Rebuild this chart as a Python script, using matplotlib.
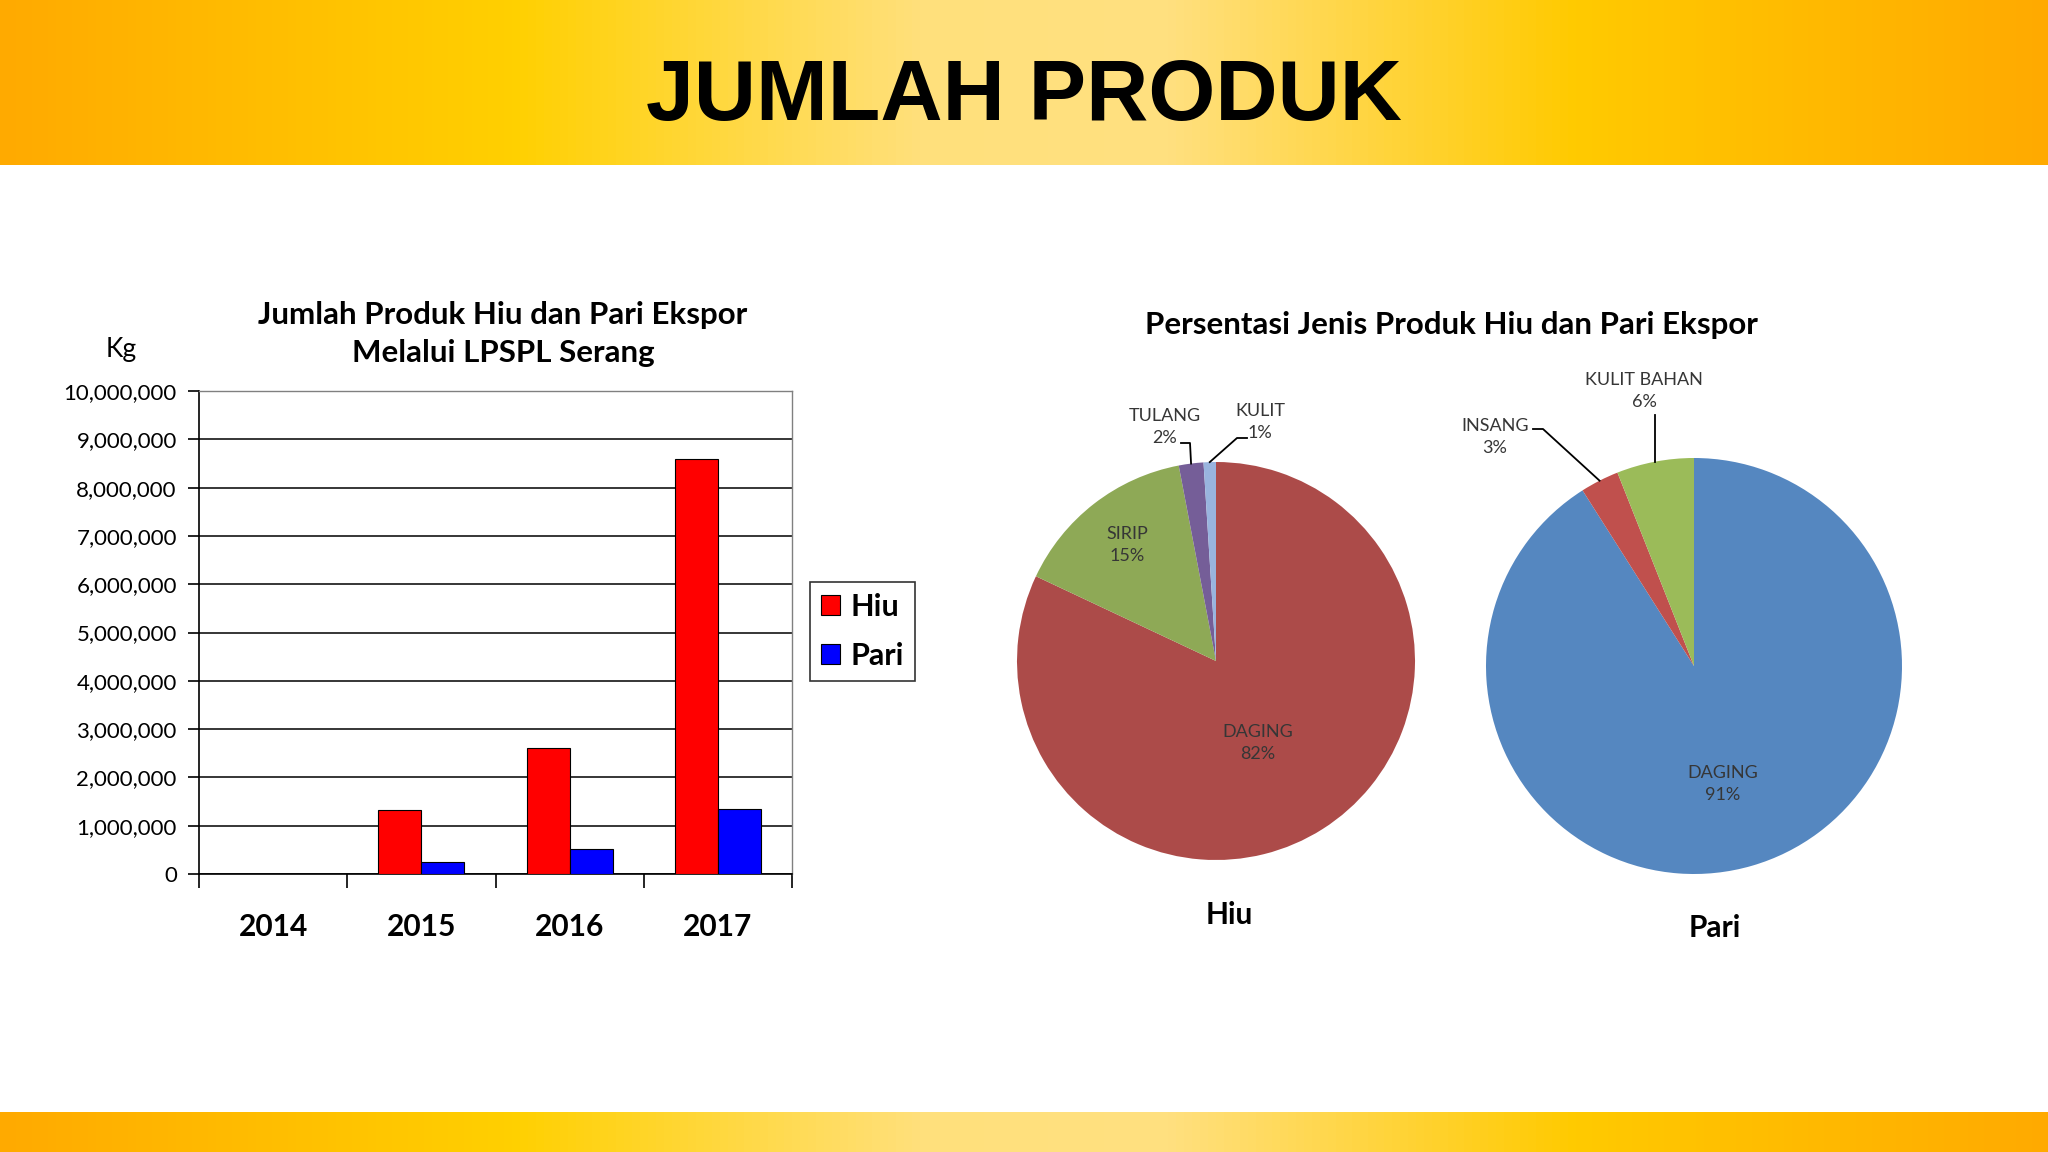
import matplotlib
matplotlib.use("Agg")
import matplotlib.pyplot as plt
import numpy as np
from matplotlib.colors import LinearSegmentedColormap
from matplotlib.ticker import FuncFormatter, MultipleLocator, FixedLocator

# ---------------- data ----------------
years = ["2014", "2015", "2016", "2017"]
hiu_kg = [0, 1320000, 2600000, 8600000]
pari_kg = [0, 240000, 510000, 1350000]

hiu_parts = ["DAGING", "SIRIP", "TULANG", "KULIT"]
hiu_pct = [82, 15, 2, 1]
pari_parts = ["DAGING", "INSANG", "KULIT BAHAN"]
pari_pct = [91, 3, 6]

FONT = "Lato"
W, H = 2048, 1152
fig = plt.figure(figsize=(W / 100, H / 100), dpi=100)
fig.patch.set_facecolor("white")

# background axes in pixel coordinates (y up)
bg = fig.add_axes([0, 0, 1, 1])
bg.set_xlim(0, W)
bg.set_ylim(0, H)
bg.axis("off")

grad = LinearSegmentedColormap.from_list(
    "hdr",
    [(0.0, "#FFAA00"), (0.25, "#FFD000"), (0.45, "#FFE07C"),
     (0.57, "#FFE080"), (0.77, "#FFCA00"), (1.0, "#FFAA00")])
g = np.linspace(0, 1, 512).reshape(1, -1)
bg.imshow(g, cmap=grad, extent=[0, W, H - 165, H], aspect="auto", zorder=0)
bg.imshow(g, cmap=grad, extent=[0, W, 0, H - 1112], aspect="auto", zorder=0)
bg.set_xlim(0, W)
bg.set_ylim(0, H)

bg.text(1024, H - 98, "JUMLAH PRODUK", ha="center", va="center",
        fontsize=62, fontweight="bold", family="Liberation Sans", color="black")

# ---------------- bar chart ----------------
ax = fig.add_axes([199 / W, 1 - 874 / H, (792 - 199) / W, (874 - 391) / H])
x = np.arange(len(years))
bw = 0.29
ax.bar(x - bw / 2, hiu_kg, bw, color="#FF0000", edgecolor="black", linewidth=0.8,
       label="Hiu", zorder=3)
ax.bar(x + bw / 2, pari_kg, bw, color="#0000FF", edgecolor="black", linewidth=0.8,
       label="Pari", zorder=3)
ax.set_xlim(-0.5, len(years) - 0.5)
ax.set_ylim(0, 10000000)
ax.yaxis.set_major_locator(MultipleLocator(1000000))
ax.yaxis.set_major_formatter(FuncFormatter(lambda v, p: f"{int(v):,}"))
ax.grid(axis="y", color="black", linewidth=1.1, zorder=1)
ax.set_axisbelow(True)
ax.set_xticks(x)
ax.set_xticklabels(years, fontsize=21.5, fontweight="bold", family=FONT)
ax.tick_params(axis="x", which="major", length=0, pad=28)
ax.xaxis.set_minor_locator(FixedLocator(np.arange(-0.5, len(years), 1.0)))
ax.tick_params(axis="x", which="minor", length=10, width=1.2, direction="out")
ax.tick_params(axis="y", length=8, width=1.2, direction="out", pad=8)
for lab in ax.get_yticklabels():
    lab.set_fontsize(16)
    lab.set_family(FONT)
for s in ["left", "bottom"]:
    ax.spines[s].set_color("black")
    ax.spines[s].set_linewidth(1.2)
for s in ["top", "right"]:
    ax.spines[s].set_color("#808080")
    ax.spines[s].set_linewidth(1.0)

leg = ax.legend(loc="upper left", bbox_to_anchor=(810 / W, 1 - 582 / H),
                bbox_transform=fig.transFigure, frameon=True, fancybox=False,
                prop={"family": FONT, "weight": "bold", "size": 22},
                handlelength=0.62, handleheight=0.62, handletextpad=0.35,
                borderpad=0.35, labelspacing=0.7, borderaxespad=0)
leg.get_frame().set_edgecolor("black")
leg.get_frame().set_linewidth(1.2)
for h in leg.legend_handles:
    h.set_edgecolor("black")
    h.set_linewidth(0.8)

bg.text(121, H - 350, "Kg", ha="center", va="center", fontsize=19, family=FONT)
bg.text(503, H - 334, "Jumlah Produk Hiu dan Pari Ekspor\nMelalui LPSPL Serang",
        ha="center", va="center", fontsize=22.5, fontweight="bold", family=FONT,
        linespacing=1.45)

# ---------------- pies ----------------
bg.text(1451, H - 325, "Persentasi Jenis Produk Hiu dan Pari Ekspor", ha="center",
        va="center", fontsize=22.5, fontweight="bold", family=FONT)

hiu_colors = ["#AC4B49", "#8EA956", "#755E98", "#99B4DE"]
pari_colors = ["#5587C0", "#C0504D", "#9BBB59"]

hc = (1216, H - 661)
hr = 199
pc = (1694, H - 666)
pr = 208
bg.pie(hiu_pct, center=hc, radius=hr, startangle=90, counterclock=False,
       colors=hiu_colors, wedgeprops=dict(linewidth=0), frame=True)
bg.pie(pari_pct, center=pc, radius=pr, startangle=90, counterclock=False,
       colors=pari_colors, wedgeprops=dict(linewidth=0), frame=True)
bg.set_xlim(0, W)
bg.set_ylim(0, H)
bg.set_aspect("auto")
bg.axis("off")

lab_kw = dict(ha="center", va="center", fontsize=13, family=FONT,
              color="#363636", linespacing=1.4)


def edge_point(center, radius, vals, idx):
    start = 90 - 360 * sum(vals[:idx]) / sum(vals)
    mid = start - 180 * vals[idx] / sum(vals)
    a = np.deg2rad(mid)
    return center[0] + radius * np.cos(a), center[1] + radius * np.sin(a)


def pct(v):
    return f"{v}%"

# Hiu labels
bg.text(1258, H - 743, f"{hiu_parts[0]}\n{pct(hiu_pct[0])}", **lab_kw)
bg.text(1127, H - 545, f"{hiu_parts[1]}\n{pct(hiu_pct[1])}", **lab_kw)
bg.text(1165, H - 427, f"{hiu_parts[2]}\n{pct(hiu_pct[2])}", **lab_kw)
bg.text(1260, H - 422, f"{hiu_parts[3]}\n{pct(hiu_pct[3])}", **lab_kw)
ex, ey = edge_point(hc, hr, hiu_pct, 2)
bg.plot([1181, 1190, ex], [H - 443, H - 443, ey], color="black", lw=1.3)
ex, ey = edge_point(hc, hr, hiu_pct, 3)
bg.plot([1247, 1237, ex], [H - 438, H - 438, ey], color="black", lw=1.3)

# Pari labels
bg.text(1723, H - 784, f"{pari_parts[0]}\n{pct(pari_pct[0])}", **lab_kw)
bg.text(1495, H - 437, f"{pari_parts[1]}\n{pct(pari_pct[1])}", **lab_kw)
bg.text(1644, H - 391, f"{pari_parts[2]}\n{pct(pari_pct[2])}", **lab_kw)
ex, ey = edge_point(pc, pr, pari_pct, 1)
bg.plot([1533, 1543, ex], [H - 429, H - 429, ey], color="black", lw=1.3)
ex, ey = edge_point(pc, pr, pari_pct, 2)
bg.plot([ex, ex], [H - 415, ey], color="black", lw=1.3)

bg.text(1229, H - 915, "Hiu", ha="center", va="center", fontsize=21.5,
        fontweight="bold", family=FONT)
bg.text(1715, H - 928, "Pari", ha="center", va="center", fontsize=21.5,
        fontweight="bold", family=FONT)

fig.savefig("out.png", dpi=100)
